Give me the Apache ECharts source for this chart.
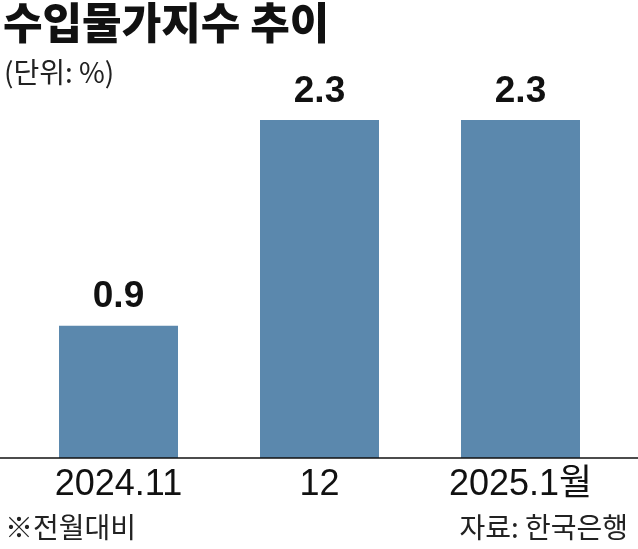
<!DOCTYPE html>
<html><head><meta charset="utf-8">
<script src="https://cdn.jsdelivr.net/npm/echarts@6/dist/echarts.min.js"></script>
<style>html,body{margin:0;padding:0;background:#fff}#c{width:638px;height:549px}</style>
</head><body><div id="c"></div>
<script>
const categories = ['2024.11', '12', '2025.1월'];
const values = [0.9, 2.3, 2.3];
const titleText = '수입물가지수 추이';
const unitText = '(단위: %)';
const noteText = '※전월대비';
const sourceText = '자료: 한국은행';

const chart = echarts.init(document.getElementById('c'));
const num = "'Liberation Sans', 'Noto Sans CJK KR', sans-serif";
const kr = "'Noto Sans CJK KR', sans-serif";
chart.setOption({
  animation: false,
  backgroundColor: '#fff',
  title: [
    {text: titleText, left: -2, top: -4, textStyle: {fontFamily: kr, fontWeight: 900, fontSize: 43, color: '#111'}},
    {text: unitText, left: -1, top: 53, textStyle: {fontFamily: kr, fontWeight: 'normal', fontSize: 28, color: '#222'}},
    {text: noteText, left: 0, top: 508, textStyle: {fontFamily: kr, fontWeight: 'normal', fontSize: 28, color: '#222'}},
    {text: sourceText, right: 5, top: 508, textStyle: {fontFamily: kr, fontWeight: 'normal', fontSize: 28, color: '#222'}}
  ],
  grid: {left: 18, right: 17, top: 17, bottom: 91},
  xAxis: {
    type: 'category', data: categories,
    axisLine: {show: false}, axisTick: {show: false},
    axisLabel: {fontFamily: num, fontSize: 36, color: '#111', margin: 9}
  },
  yAxis: {type: 'value', min: 0, max: 3, show: false, splitLine: {show: false}},
  graphic: [{type: 'line', shape: {x1: 0, y1: 458, x2: 638, y2: 458}, style: {stroke: '#111', lineWidth: 1.5}, z: 10}],
  series: [{
    type: 'bar', data: values, barWidth: 119,
    itemStyle: {color: '#5b88ad'},
    label: {show: true, position: 'top', distance: 10, formatter: p => p.value.toFixed(1),
      fontFamily: num, fontWeight: 'bold', fontSize: 37, color: '#111'}
  }]
});
</script></body></html>
